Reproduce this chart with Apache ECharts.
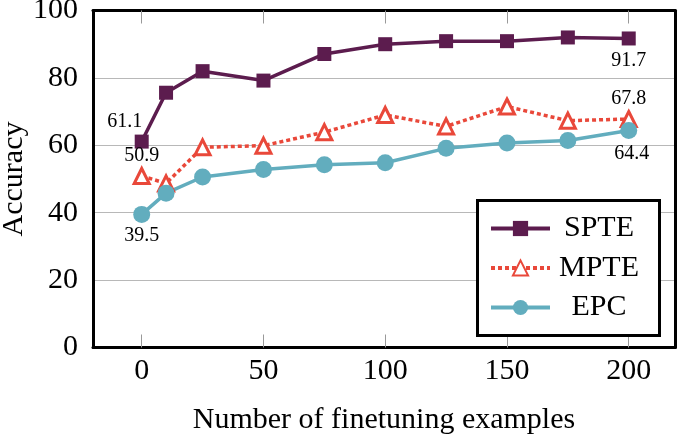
<!DOCTYPE html>
<html>
<head>
<meta charset="utf-8">
<script src="https://cdn.jsdelivr.net/npm/echarts@6/dist/echarts.min.js"></script>
<style>
  html, body { margin: 0; padding: 0; background: #fff; }
  #chart { width: 682px; height: 437px; }
</style>
</head>
<body>
<div id="chart"></div>
<script>
const examples = [0, 10, 25, 50, 75, 100, 125, 150, 175, 200];
const xTicks = [0, 50, 100, 150, 200];
const spte = [61.1, 75.6, 82.0, 79.2, 87.1, 90.0, 90.9, 90.9, 92.0, 91.7];
const mpte = [50.9, 48.7, 59.4, 59.9, 63.9, 69.0, 65.6, 71.5, 67.3, 67.8];
const epc  = [39.5, 45.8, 50.6, 52.8, 54.2, 54.8, 59.1, 60.7, 61.4, 64.4];
const labelledIdx = [0, 9];

const FONT = 'Liberation Serif';
const C_SPTE = '#5c1c4e';
const C_MPTE = '#e9483a';
const C_EPC  = '#62adbe';
const FRAME = { show: true, onZero: false, lineStyle: { color: '#000', width: 3 } };

function build(values, offsets) {
  return values.map((v, i) => {
    const item = { value: [examples[i], v] };
    const k = labelledIdx.indexOf(i);
    if (k >= 0) {
      item.label = {
        show: true, position: 'inside', offset: offsets[k],
        formatter: (p) => p.value[1].toFixed(1),
        fontFamily: FONT, fontSize: 20, color: '#000'
      };
    }
    return item;
  });
}

const chart = echarts.init(document.getElementById('chart'), null, { renderer: 'canvas' });
chart.setOption({
  animation: false,
  backgroundColor: '#fff',
  grid: {
    left: 93, right: 7, top: 10.5, bottom: 89.5,
    containLabel: false, outerBoundsMode: 'none'
  },
  xAxis: [{
    type: 'value', min: -20, max: 219,
    name: 'Number of finetuning examples', nameLocation: 'middle', nameGap: 58,
    nameMoveOverlap: false,
    nameTextStyle: { fontFamily: FONT, fontSize: 30, color: '#000' },
    axisLine: FRAME,
    axisTick: { show: true, inside: true, length: 13, customValues: xTicks, lineStyle: { color: '#999', width: 1 } },
    axisLabel: { customValues: xTicks, fontFamily: FONT, fontSize: 30, color: '#000', margin: 9 },
    splitLine: { show: false }
  }, {
    type: 'value', min: -20, max: 219, position: 'top',
    axisLine: FRAME,
    axisTick: { show: true, inside: true, length: 13, customValues: xTicks, lineStyle: { color: '#999', width: 1 } },
    axisLabel: { show: false },
    splitLine: { show: false }
  }],
  yAxis: [{
    type: 'value', min: 0, max: 100, interval: 20,
    name: 'Accuracy', nameLocation: 'middle', nameGap: 64,
    nameMoveOverlap: false,
    nameTextStyle: { fontFamily: FONT, fontSize: 30, color: '#000' },
    axisLine: FRAME,
    axisTick: { show: false },
    axisLabel: { fontFamily: FONT, fontSize: 30, color: '#000', margin: 15 },
    splitLine: { show: true, lineStyle: { color: '#b8b8b8', width: 1 } }
  }, {
    type: 'value', min: 0, max: 100, interval: 20, position: 'right',
    axisLine: FRAME,
    axisTick: { show: false },
    axisLabel: { show: false },
    splitLine: { show: false }
  }],
  legend: {
    orient: 'vertical', left: 477.5, top: 200.5,
    padding: [13, 16.5, 13, 11.5],
    itemGap: 9.5, itemWidth: 59, itemHeight: 19,
    backgroundColor: '#fff', borderColor: '#000', borderWidth: 3, borderRadius: 0,
    lineStyle: { width: 4 },
    formatter: (name) => '{t|' + name + '}',
    textStyle: {
      rich: { t: { width: 88, align: 'center', fontFamily: FONT, fontSize: 30, lineHeight: 30, color: '#000' } }
    },
    data: ['SPTE', 'MPTE', 'EPC']
  },
  series: [{
    name: 'SPTE', type: 'line', data: build(spte, [[-17, -20], [0, 22]]),
    symbol: 'rect', symbolSize: 14,
    lineStyle: { color: C_SPTE, width: 3.5 },
    itemStyle: { color: C_SPTE }
  }, {
    name: 'MPTE', type: 'line', data: build(mpte, [[0, -20], [0, -20]]),
    symbol: 'triangle', symbolSize: 15,
    lineStyle: { color: C_MPTE, width: 3.5, type: [4, 3] },
    itemStyle: { color: '#fff', borderColor: C_MPTE, borderWidth: 3 }
  }, {
    name: 'EPC', type: 'line', data: build(epc, [[0, 21], [3, 23]]),
    symbol: 'circle', symbolSize: 17,
    lineStyle: { color: C_EPC, width: 3.5 },
    itemStyle: { color: C_EPC }
  }]
});
</script>
</body>
</html>
